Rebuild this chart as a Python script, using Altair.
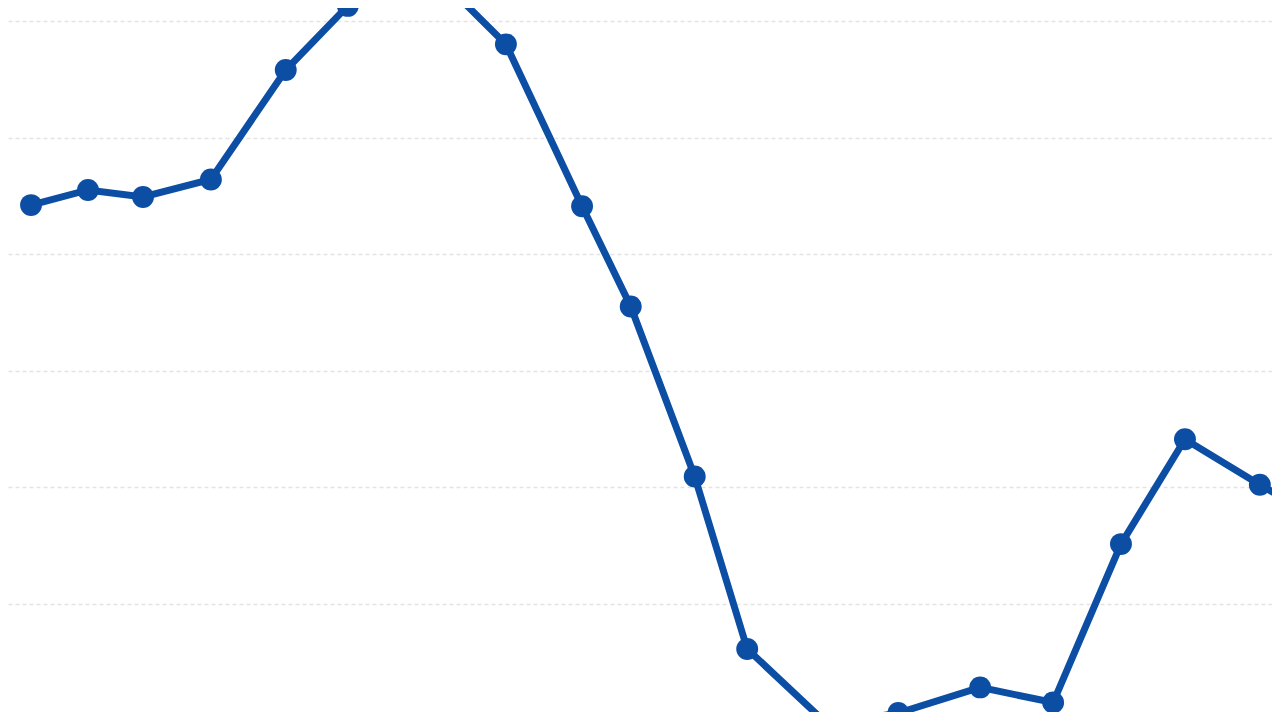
import altair as alt
import pandas as pd

# x positions (arbitrary time units) and values
x_vals = [0.36, 1.25, 2.11, 3.17, 4.34, 5.31, 6.28, 7.78, 8.97, 9.73,
          10.73, 11.55, 12.81, 13.91, 15.19, 16.33, 17.39, 18.39, 19.56, 20.58]
y_vals = [44.2, 45.5, 44.9, 46.4, 55.8, 61.3, 66.2, 58.0, 44.1, 35.5,
          20.9, 6.1, -0.4, 0.6, 2.8, 1.5, 15.1, 24.1, 20.2, 17.0]
grid_values = [10, 20, 30, 40, 50, 60]

df = pd.DataFrame({"x": x_vals, "y": y_vals})

LINE_COLOR = "#0b4ea4"

x_enc = alt.X("x:Q", axis=None, scale=alt.Scale(domain=[0, 19.75], nice=False, zero=False))
y_enc = alt.Y("y:Q", scale=alt.Scale(domain=[0.687, 61.12], nice=False, zero=False),
              axis=alt.Axis(values=grid_values, labels=False, ticks=False, domain=False,
                            title=None, grid=True, gridColor="#e3e3e3",
                            gridDash=[4, 3], gridWidth=1.5))

base = alt.Chart(df)
line = base.mark_line(color=LINE_COLOR, strokeWidth=7, clip=True).encode(x=x_enc, y=y_enc)
pts = base.mark_circle(color=LINE_COLOR, opacity=1, size=480, clip=True).encode(x=x_enc, y=y_enc)

chart = (line + pts).properties(
    width=1264, height=704, padding=0,
    autosize=alt.AutoSizeParams(type="none"),
).configure(background="white", view=alt.ViewConfig(stroke=None))

chart.save("out.html", embed_options={"renderer": "svg", "actions": False})
